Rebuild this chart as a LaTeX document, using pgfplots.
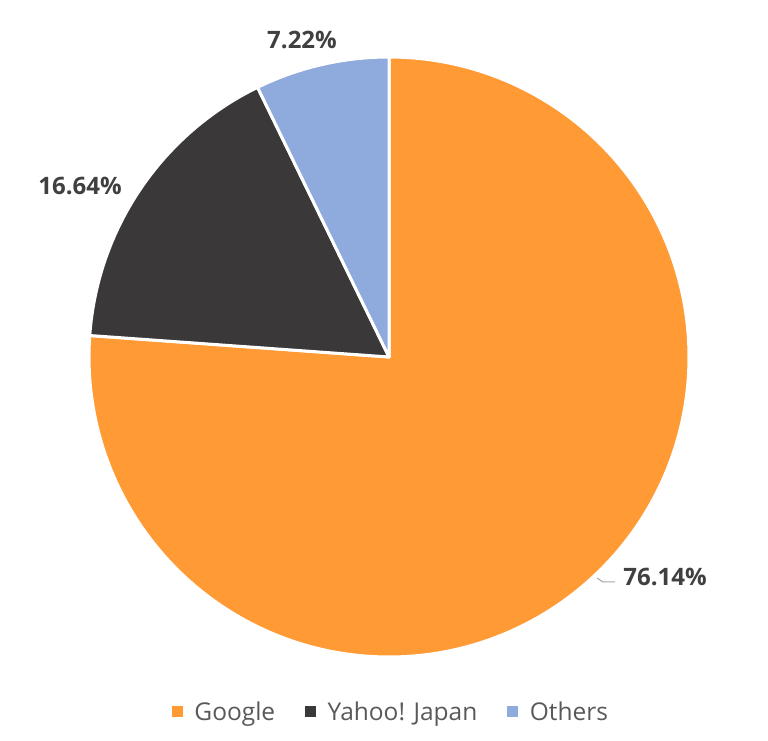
\documentclass[border=0pt]{standalone}
\usepackage{pgfplots}
\pgfplotsset{compat=1.18}
\usepackage{fontspec}
\setmainfont{Open Sans}
\definecolor{gorange}{HTML}{FF9A35}
\definecolor{ydark}{HTML}{3A3838}
\definecolor{oblue}{HTML}{8FAADC}
\definecolor{lblgray}{HTML}{404040}
\definecolor{leggray}{HTML}{595959}
% shares (percent)
\def\vGoogle{76.14}
\def\vYahoo{16.64}
\def\vOthers{7.22}
\pgfmathsetmacro\aA{90}
\pgfmathsetmacro\aB{90-\vGoogle*3.6}
\pgfmathsetmacro\aC{\aB-\vYahoo*3.6}
\pgfmathsetmacro\aD{\aC-\vOthers*3.6}
\begin{document}
\begin{tikzpicture}
\begin{axis}[
  scale only axis, width=768pt, height=741pt,
  xmin=0, xmax=768, ymin=0, ymax=741,
  hide axis, clip=false,
  legend columns=3,
  legend style={draw=none, fill=none, at={(axis cs:391,29.5)}, anchor=center,
    font=\fontsize{24.5}{28}\selectfont, text=leggray,
    /tikz/every even column/.append style={column sep=28pt}},
  legend image code/.code={\fill[#1,draw=none] (0pt,-5.5pt) rectangle (11pt,5.5pt); \path (19pt,0pt);},
  slice/.style={draw=white, line width=3pt, samples=240, line join=round},
]
\path[draw=none] (rel axis cs:0,0) rectangle (rel axis cs:1,1);
\addplot[slice, fill=gorange, domain=\aB:\aA] ({389+300*cos(x)},{384+300*sin(x)}) -- (axis cs:389,384) -- cycle;
\addlegendentry{Google}
\addplot[slice, fill=ydark, domain=\aC:\aB] ({389+300*cos(x)},{384+300*sin(x)}) -- (axis cs:389,384) -- cycle;
\addlegendentry{Yahoo! Japan}
\addplot[slice, fill=oblue, domain=\aD:\aC] ({389+300*cos(x)},{384+300*sin(x)}) -- (axis cs:389,384) -- cycle;
\addlegendentry{Others}
\draw[gray!70, line width=1pt] (axis cs:597,163) -- (axis cs:603,159) -- (axis cs:615,159);
\node[font=\fontsize{24}{28}\selectfont\bfseries, text=lblgray] at (axis cs:302,701) {7.22\%};
\node[font=\fontsize{24}{28}\selectfont\bfseries, text=lblgray] at (axis cs:80,555) {16.64\%};
\node[font=\fontsize{24}{28}\selectfont\bfseries, text=lblgray] at (axis cs:665,164) {76.14\%};
\end{axis}
\end{tikzpicture}
\end{document}
